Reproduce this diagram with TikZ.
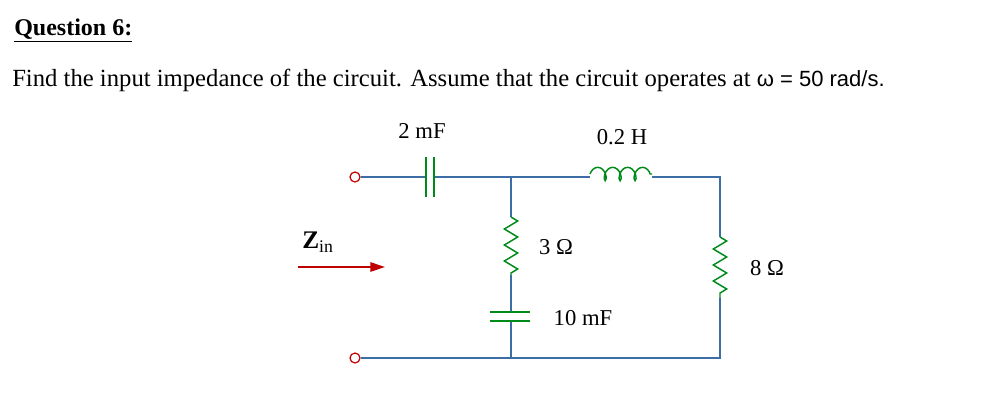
\documentclass[tikz,border=0pt]{standalone}
\usepackage{fontspec}
\setmainfont{Liberation Serif}
\newfontfamily\sansf{Liberation Sans}
\usetikzlibrary{decorations.pathmorphing,arrows.meta}
\begin{document}
\begin{tikzpicture}[x=0.75pt,y=-0.75pt,
  comp/.style={draw=green!55!black!80!teal, line width=1.1pt},
  term/.style={circle,draw=red!75!black,line width=0.9pt,fill=white,inner sep=0pt,minimum size=7.5pt},
  lab/.style={font=\fontsize{17}{17}\selectfont,inner sep=0pt}]
\useasboundingbox (0,0) rectangle (988,412);
\definecolor{wc}{RGB}{60,110,165}
\tikzset{wire/.style={draw=wc, line width=0.9pt}}
\node[anchor=west,inner sep=0pt,font=\fontsize{18}{18}\selectfont\bfseries] (q) at (14,30) {\underline{Question 6:}};
\node[anchor=west,inner sep=0pt,font=\fontsize{18.5}{18.5}\selectfont] (t) at (12,80) {Find the input impedance of the circuit. Assume that the circuit operates at {\sansf\fontsize{16.5}{16.5}\selectfont ω = 50 rad/s.}};
\coordinate (a) at (511,177); \coordinate (b) at (511,358);
\coordinate (c) at (720,177); \coordinate (d) at (720,358);
\node[term] (t1) at (355,177) {};
\node[term] (t2) at (355,358) {};
\draw[wire] (t1) -- (426,177) (434,177) -- (a) -- (590,177) (652,177) -- (c) -- (720,237) (720,298) -- (d) -- (b) -- (t2);
\draw[comp] (426,157) -- (426,197) (434,157) -- (434,197);
\draw[comp,decoration={coil,aspect=0.6,segment length=11.2pt,amplitude=5pt},decorate] (590,174) -- (652,174);
\draw[wire] (a) -- (511,217) (511,275) -- (511,312) (511,321) -- (b);
\draw[comp,decoration={zigzag,segment length=12pt,amplitude=5pt},decorate] (511,217) -- (511,275);
\draw[comp,decoration={zigzag,segment length=12pt,amplitude=5pt},decorate] (720,237) -- (720,298);
\draw[comp] (490,312) -- (530,312) (490,321) -- (530,321);
\draw[draw=red!75!black,line width=1.4pt,-{Triangle[length=11pt,width=7pt]}] (298,267) -- (385,267);
\node[lab] (l1) at (422,131) {2 mF};
\node[lab] (l2) at (622,137) {0.2 H};
\node[lab] (l3) at (556,247) {3 Ω};
\node[lab] (l4) at (767,268) {8 Ω};
\node[lab] (l5) at (583,318) {10 mF};
\node[lab,font=\fontsize{19}{19}\selectfont\bfseries] (z) at (318,242) {Z\textsubscript{\mdseries in}};
\end{tikzpicture}
\end{document}
